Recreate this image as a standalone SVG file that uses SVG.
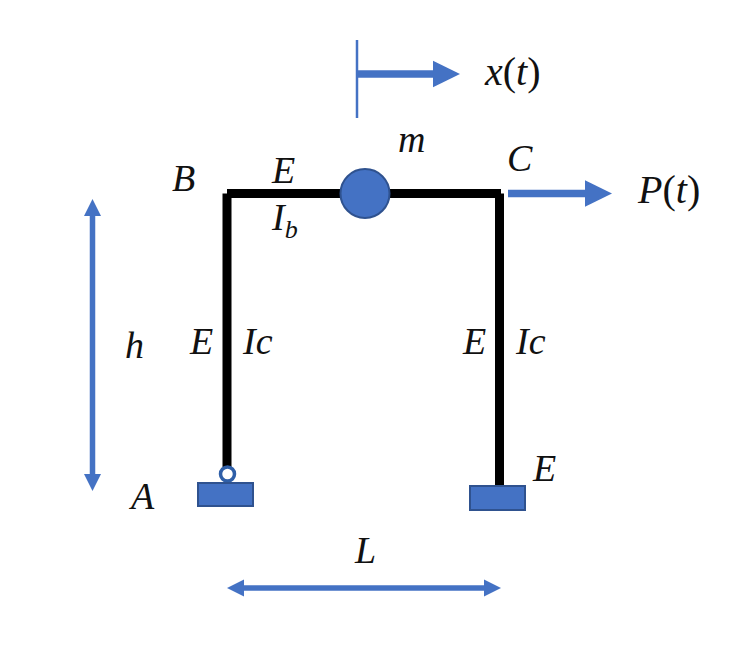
<svg xmlns="http://www.w3.org/2000/svg" width="746" height="653" viewBox="0 0 746 653">
  <style>
    text { font-family: "Liberation Serif", "Times New Roman", serif; font-style: italic; font-size: 38px; fill: #111; }
    .up { font-style: normal; }
    .sub { font-size: 26px; }
    .wide { font-size: 40px; }
    .frame { stroke: #000; stroke-width: 9; fill: none; }
    .force { stroke: #4472C4; stroke-width: 7.5; fill: none; }
    .dim { stroke: #4472C4; stroke-width: 5.5; fill: none; }
    .tick { stroke: #4472C4; stroke-width: 2.5; fill: none; }
    .solid { fill: #4472C4; stroke: #2F528F; stroke-width: 2; }
  </style>
  <defs>
    <marker id="bigHead" markerUnits="userSpaceOnUse" markerWidth="28" markerHeight="28" viewBox="0 0 28 28" refX="0.5" refY="14" orient="auto">
      <path d="M0 0.5L27.5 14L0 27.5Z" fill="#4472C4"/>
    </marker>
    <marker id="smallHead" markerUnits="userSpaceOnUse" markerWidth="18" markerHeight="18" viewBox="0 0 18 18" refX="1" refY="9" orient="auto-start-reverse">
      <path d="M0 0.5L17 9L0 17.5Z" fill="#4472C4"/>
    </marker>
  </defs>
  <rect width="746" height="653" fill="#fff"/>
  <g id="connectors">
    <path class="frame" d="M227 467V193.5"/>
    <path class="frame" d="M227 193.5H501"/>
    <path class="frame" d="M499.5 193.5V486"/>
    <path class="tick" d="M357 40V118"/>
    <path class="force" d="M357 74H433" marker-end="url(#bigHead)"/>
    <path class="force" d="M508 193.5H585" marker-end="url(#bigHead)"/>
    <path class="dim" d="M92.5 215V475" marker-start="url(#smallHead)" marker-end="url(#smallHead)"/>
    <path class="dim" d="M243 588H485" marker-start="url(#smallHead)" marker-end="url(#smallHead)"/>
  </g>
  <g id="node-m">
    <circle class="solid" cx="365" cy="193.5" r="24.5"/>
    <text x="398" y="152">m</text>
  </g>
  <g id="node-A">
    <circle cx="227.5" cy="474" r="7" fill="#fff" stroke="#2F5FA8" stroke-width="3.5"/>
    <rect class="solid" x="198" y="483" width="55" height="23"/>
    <text x="131" y="509">A</text>
  </g>
  <g id="node-E-support">
    <rect class="solid" x="470" y="486" width="55" height="24"/>
    <text x="533" y="481">E</text>
  </g>
  <g id="node-B"><text x="172" y="191">B</text></g>
  <g id="node-C"><text x="507" y="171">C</text></g>
  <g id="label-x"><text class="wide" x="485" y="85">x<tspan class="up">(</tspan>t<tspan class="up">)</tspan></text></g>
  <g id="label-P"><text class="wide" x="638" y="203">P<tspan class="up">(</tspan>t<tspan class="up">)</tspan></text></g>
  <g id="label-beam">
    <text x="272" y="183">E</text>
    <text x="272" y="230">I<tspan class="sub" dy="8">b</tspan></text>
  </g>
  <g id="label-left-column">
    <text x="125" y="358">h</text>
    <text x="190" y="354">E</text>
    <text x="243" y="354">Ic</text>
  </g>
  <g id="label-right-column">
    <text x="463" y="354">E</text>
    <text x="516" y="354">Ic</text>
  </g>
  <g id="label-L"><text x="355" y="563">L</text></g>
</svg>
